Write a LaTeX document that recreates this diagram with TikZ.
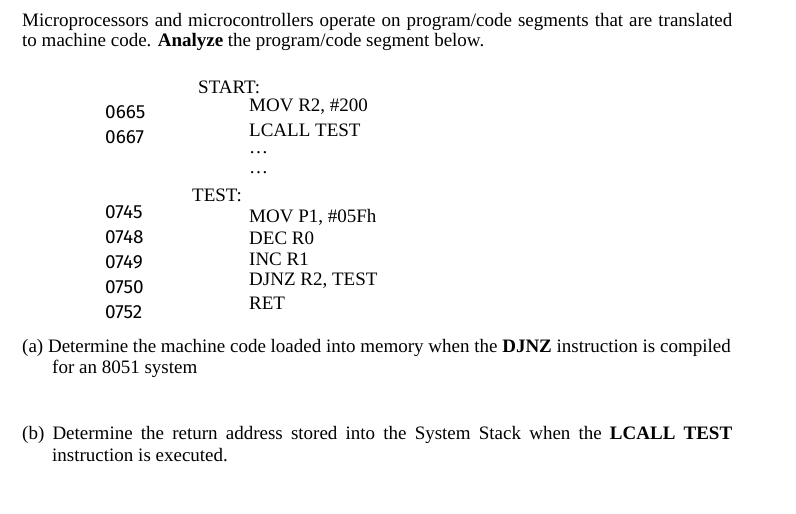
\documentclass[tikz,border=0pt]{standalone}
\usepackage{fontspec}
\setmainfont{Liberation Serif}
\newfontfamily\addrfont{Fira Sans}
\begin{document}
\begin{tikzpicture}[x=1pt,y=-1pt,
  txt/.style={anchor=west,inner sep=0pt,font=\fontsize{19}{22}\selectfont},
  addr/.style={anchor=west,inner sep=0pt,font=\addrfont\fontsize{19}{22}\selectfont}]
\useasboundingbox (0,0) rectangle (796,514);
\node[txt] (l1) at (22,22) {\makebox[710pt][s]{Microprocessors and microcontrollers operate on program/code segments that are translated}};
\node[txt] (l2) at (22,42) {to machine code. \textbf{Analyze} the program/code segment below.};
\node[txt] (start) at (198,87) {START:};
\node[addr] (a1) at (105,112) {0665};
\node[addr] (a2) at (105,137) {0667};
\node[txt] (i1) at (249,107) {MOV R2, \#200};
\node[txt] (i2) at (249,130) {LCALL TEST};
\node[txt] (d1) at (249,153) {\dots};
\node[txt] (d2) at (249,173) {\dots};
\node[txt] (test) at (192,195) {TEST:};
\node[addr] (a3) at (105,212) {0745};
\node[addr] (a4) at (105,237) {0748};
\node[addr] (a5) at (105,262) {0749};
\node[addr] (a6) at (105,287) {0750};
\node[addr] (a7) at (105,312) {0752};
\node[txt] (i3) at (249,217) {MOV P1, \#05Fh};
\node[txt] (i4) at (249,238) {DEC R0};
\node[txt] (i5) at (249,259) {INC R1};
\node[txt] (i6) at (249,281) {DJNZ R2, TEST};
\node[txt] (i7) at (249,303) {RET};
\node[txt] (qa1) at (22,348) {(a) Determine the machine code loaded into memory when the \textbf{DJNZ} instruction is compiled};
\node[txt] (qa2) at (52,369) {for an 8051 system};
\node[txt] (qb1) at (22,435) {\makebox[710pt][s]{(b) Determine the return address stored into the System Stack when the \textbf{LCALL TEST}}};
\node[txt] (qb2) at (52,455) {instruction is executed.};
\end{tikzpicture}
\end{document}
